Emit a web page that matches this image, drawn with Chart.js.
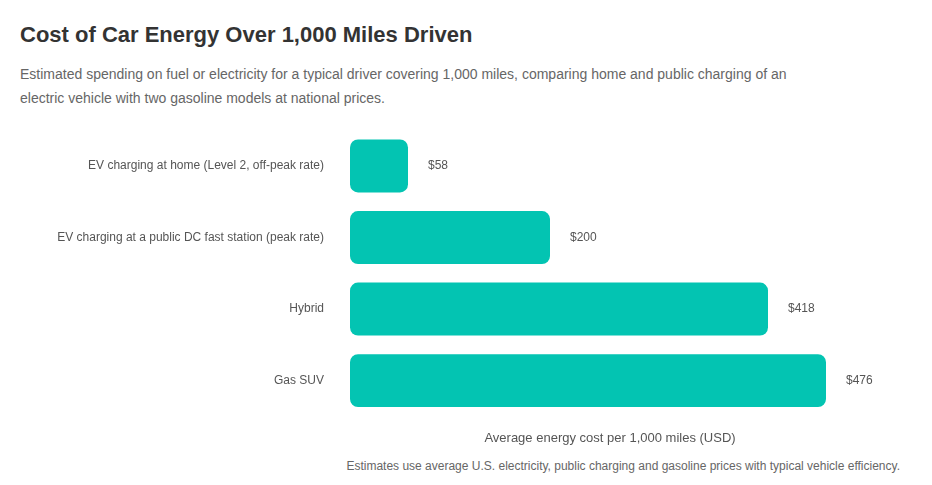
<!DOCTYPE html>
<html>
<head>
<meta charset="utf-8">
<script src="https://cdn.jsdelivr.net/npm/chart.js@4"></script>
<style>
  body { margin: 0; background: #fff; font-family: "Liberation Sans", Arial, sans-serif; }
  #wrap { position: relative; width: 932px; height: 485px; }
  h1 { position: absolute; left: 20px; top: 22px; margin: 0; font-size: 22px; font-weight: bold; color: #333; }
  #sub { position: absolute; left: 20px; top: 62px; width: 800px; margin: 0; font-size: 14px; line-height: 24px; color: #666; }
  #chartBox { position: absolute; left: 0; top: 105px; width: 932px; height: 345px; }
  #note { position: absolute; right: 32px; top: 459px; font-size: 12px; color: #666; }
</style>
</head>
<body>
<div id="wrap">
  <h1>Cost of Car Energy Over 1,000 Miles Driven</h1>
  <p id="sub">Estimated spending on fuel or electricity for a typical driver covering 1,000 miles, comparing home and public charging of an electric vehicle with two gasoline models at national prices.</p>
  <div id="chartBox"><canvas id="costChart"></canvas></div>
  <div id="note">Estimates use average U.S. electricity, public charging and gasoline prices with typical vehicle efficiency.</div>
</div>
<script>
const categories = [
    "EV charging at home (Level 2, off-peak rate)",
    "EV charging at a public DC fast station (peak rate)",
    "Hybrid",
    "Gas SUV"
];
const costs = [58, 200, 418, 476];
const axisMax = 520;

// value labels at the end of each bar
const endLabels = {
    id: "endLabels",
    afterDatasetsDraw(chart) {
        const { ctx } = chart;
        const meta = chart.getDatasetMeta(0);
        ctx.save();
        ctx.font = "12px 'Liberation Sans', Arial, sans-serif";
        ctx.fillStyle = "#555";
        ctx.textBaseline = "middle";
        meta.data.forEach((bar, i) => {
            ctx.fillText("$" + costs[i], bar.x + 20, bar.y);
        });
        ctx.restore();
    }
};

const ctx = document.getElementById("costChart");
Chart.defaults.font.family = "'Liberation Sans', Arial, sans-serif";
Chart.defaults.color = "#555";

new Chart(ctx, {
    type: "bar",
    data: {
        labels: categories,
        datasets: [{
            data: costs,
            backgroundColor: "#03c4b2",
            borderRadius: 8,
            borderSkipped: false,
            categoryPercentage: 1,
            barPercentage: 0.74
        }]
    },
    options: {
        indexAxis: "y",
        responsive: true,
        maintainAspectRatio: false,
        animation: false,
        layout: { padding: { top: 10, right: 62, left: 20, bottom: 0 } },
        plugins: {
            legend: { display: false },
            tooltip: { enabled: false }
        },
        scales: {
            x: {
                min: 0,
                max: axisMax,
                grid: { display: false },
                border: { display: false },
                ticks: { display: false },
                title: {
                    display: true,
                    text: "Average energy cost per 1,000 miles (USD)",
                    font: { size: 13 },
                    color: "#555",
                    padding: { top: 6 }
                }
            },
            y: {
                grid: { display: false },
                border: { display: false },
                ticks: { font: { size: 12 }, color: "#555", padding: 18 },
                afterFit(scale) { scale.width = 330; }
            }
        }
    },
    plugins: [endLabels]
});
</script>
</body>
</html>
